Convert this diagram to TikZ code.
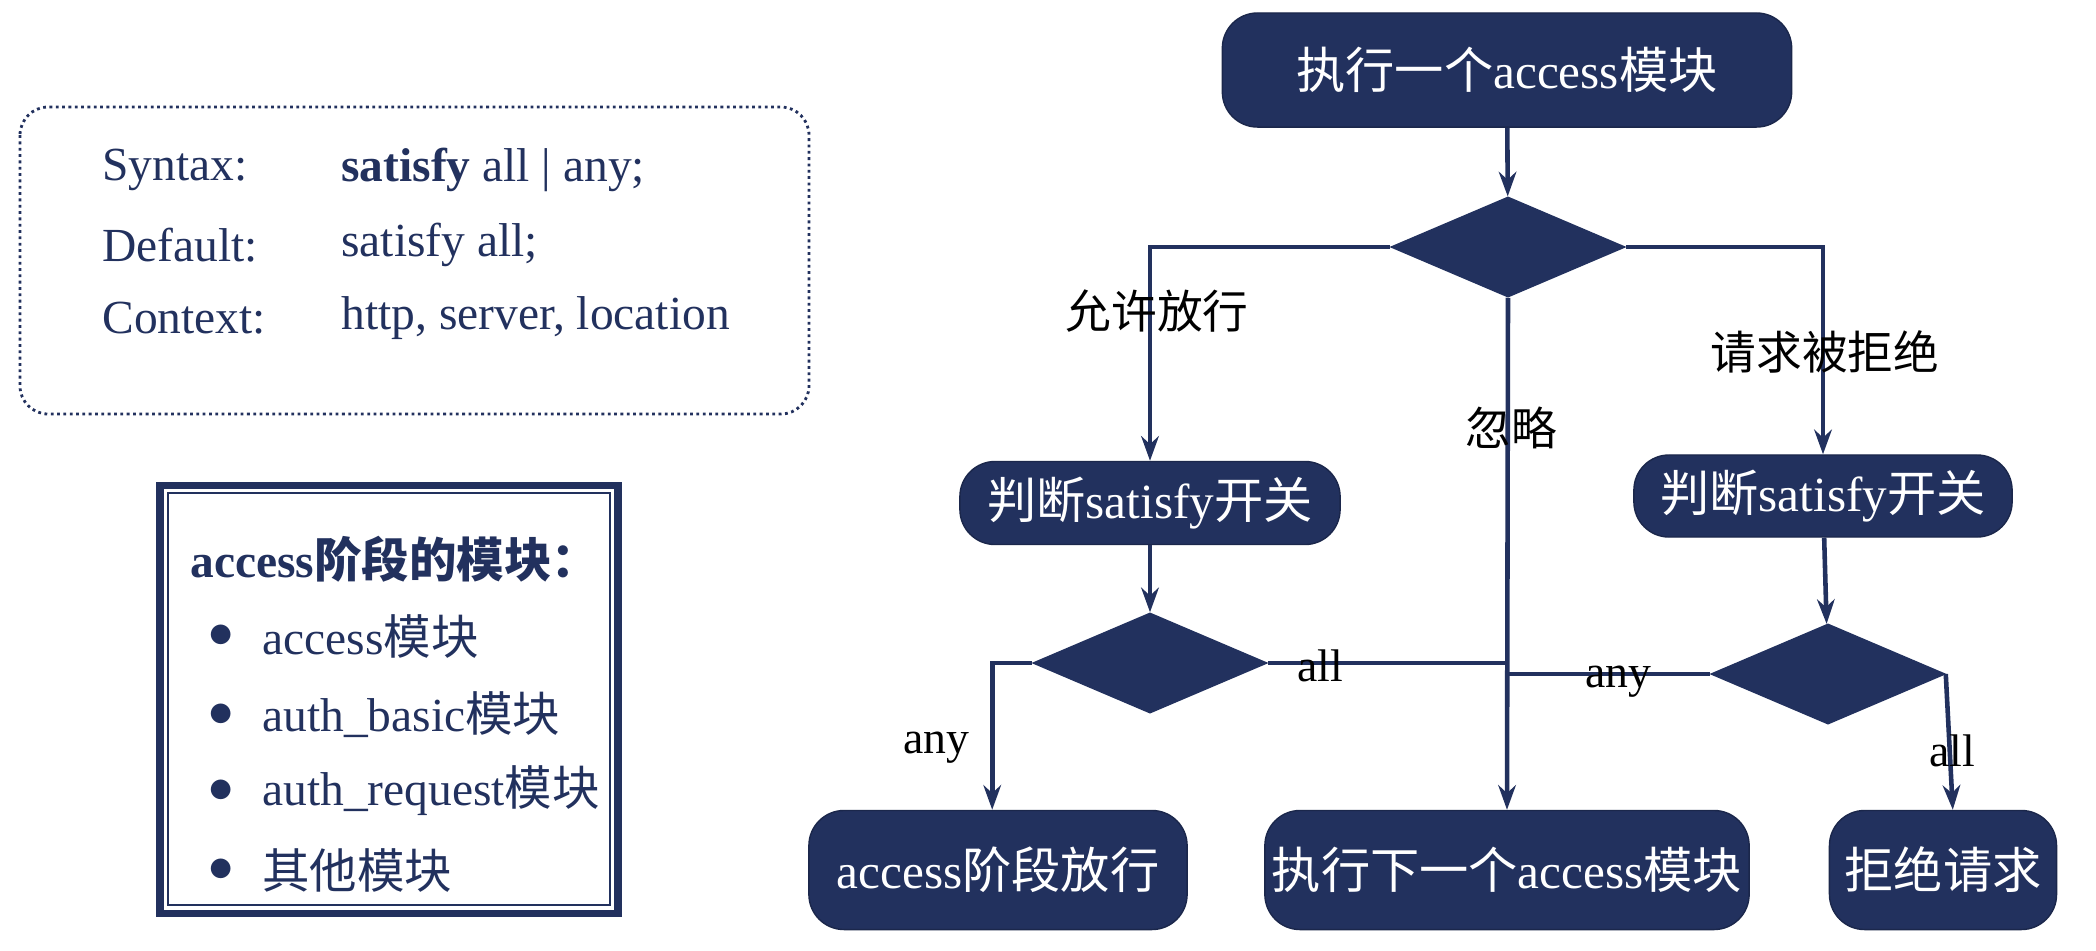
\documentclass[tikz,border=0pt]{standalone}
\usepackage{fontspec}
\setmainfont{Liberation Serif}
\newfontfamily\cjk{Noto Sans CJK SC}
\usetikzlibrary{shapes.geometric,arrows.meta}
\definecolor{navy}{RGB}{34,49,94}
\newcommand{\zh}[1]{{\cjk #1}}
\tikzset{
  stage/.style = {draw = navy!80!black, fill = navy, text = white, rounded corners = 10pt,
                 font = \fontsize{14}{16}\selectfont, inner sep = 0pt},
  test/.style = {draw = navy, fill = navy, shape = diamond, aspect = 2.34, inner sep = 0pt,
                 minimum width = 2.34cm, minimum height = 1cm},
  flow/.style = {draw = navy, line width = 1.3pt, -{Stealth[length = 7pt, width = 5pt]}},
  mergeline/.style = {draw = navy, line width = 1.3pt},
  tag/.style = {font = \fontsize{13}{15}\selectfont\cjk, text = black},
  word/.style = {font = \fontsize{13}{15}\selectfont, text = black},
  info/.style = {font = \fontsize{13.5}{16}\selectfont, text = navy, anchor = west}
}
\begin{document}
\begin{tikzpicture}[x = 0.01cm, y = -0.01cm]
    \useasboundingbox (0,0) rectangle (2096,950);
    % directive box
    \draw[navy, densely dotted, line width = 0.8pt, rounded corners = 8pt] (20,107) rectangle (809,414);
    \begin{scope}[every node/.append style = {info}]
        \node (synK) at (90,170) {Syntax:};
        \node (defK) at (90,245) {Default:};
        \node (ctxK) at (90,318) {Context:};
        \node (synV) at (329,170) {\textbf{satisfy} all | any;};
        \node (defV) at (329,245) {satisfy all;};
        \node (ctxV) at (329,318) {http, server, location};
    \end{scope}
    % module list
    \draw[navy, line width = 2pt] (160,485) rectangle (618,913);
    \draw[navy, line width = 0.6pt] (168,493) rectangle (610,905);
    \begin{scope}[every node/.append style = {info}]
        \node (title) at (178,559) {\textbf{access\zh{阶段的模块：}}};
        \node (m1) at (250,636) {access\zh{模块}};
        \node (m2) at (250,715) {auth\_basic\zh{模块}};
        \node (m3) at (250,791) {auth\_request\zh{模块}};
        \node (m4) at (250,870) {\zh{其他模块}};
        \node at (196,636) {$\bullet$};
        \node at (196,715) {$\bullet$};
        \node at (196,791) {$\bullet$};
        \node at (196,870) {$\bullet$};
    \end{scope}
    % flow chart
    \node[stage, minimum width = 5.69cm, minimum height = 1.14cm] (run) at (1507,70) {\zh{执行一个}access\zh{模块}};
    \node[test] (q1) at (1508,247) {};
    \node[stage, minimum width = 3.8cm, minimum height = 0.83cm] (swL) at (1150,503) {\zh{判断}satisfy\zh{开关}};
    \node[stage, minimum width = 3.78cm, minimum height = 0.82cm] (swR) at (1823,496) {\zh{判断}satisfy\zh{开关}};
    \node[test] (q2) at (1150,663) {};
    \node[test] (q3) at (1828,674) {};
    \node[stage, minimum width = 3.78cm, minimum height = 1.19cm] (pass) at (998,870) {access\zh{阶段放行}};
    \node[stage, minimum width = 4.84cm, minimum height = 1.19cm] (next) at (1507,870) {\zh{执行下一个}access\zh{模块}};
    \node[stage, minimum width = 2.27cm, minimum height = 1.19cm] (deny) at (1943,870) {\zh{拒绝请求}};
    \coordinate (mid2) at (1507,663);
    \coordinate (mid3) at (1507,674);
    \draw[flow] (run) -- (q1);
    \draw[flow] (q1.west) -| (swL.north);
    \draw[flow] (q1.east) -| (swR.north);
    \draw[flow] (q1.south) -- (next.north);
    \draw[flow] (swL) -- (q2);
    \draw[flow] (swR) -- (q3);
    \draw[flow] (q2.west) -| ([xshift = -0.4cm]q2.west |- pass.north);
    \draw[mergeline] (q2.east) -- (mid2);
    \draw[mergeline] (q3.west) -- (mid3);
    \draw[flow] (q3.east) -- ([xshift = 0.07cm]q3.east |- deny.north);
    \node[tag] at (1157,311) {允许放行};
    \node[tag] at (1825,352) {请求被拒绝};
    \node[tag] at (1511,428) {忽略};
    \node[word] at (936,748) {any};
    \node[word] at (1320,666) {all};
    \node[word] at (1618,682) {any};
    \node[word] at (1952,751) {all};
\end{tikzpicture}
\end{document}
